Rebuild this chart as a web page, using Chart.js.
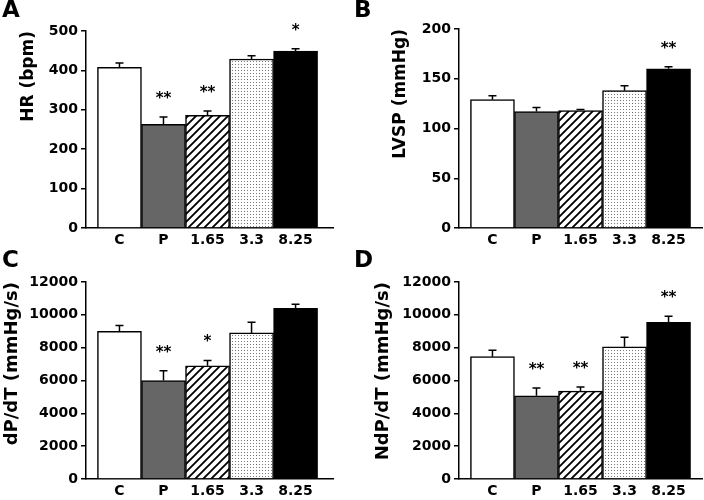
<!DOCTYPE html>
<html>
<head>
<meta charset="utf-8">
<script src="https://cdn.jsdelivr.net/npm/chart.js@4.4.1/dist/chart.umd.min.js"></script>
<style>
  body { margin: 0; background: #fff; }
  #fig { position: relative; width: 704px; height: 500px; }
  #fig canvas { position: absolute; }
</style>
</head>
<body>
<div id="fig">
  <canvas id="chartA" width="352" height="250" style="left:0;top:0"></canvas>
  <canvas id="chartB" width="352" height="250" style="left:352px;top:0"></canvas>
  <canvas id="chartC" width="352" height="250" style="left:0;top:250px"></canvas>
  <canvas id="chartD" width="352" height="250" style="left:352px;top:250px"></canvas>
</div>
<script>
// groups shared by all four panels
const groups = ['C', 'P', '1.65', '3.3', '8.25'];

// A: heart rate
const hrMean = [408, 263, 286, 429, 449];
const hrErr = [11, 19, 11, 8, 6];
const hrStars = ['', '**', '**', '', '*'];
const hrTicks = [0, 100, 200, 300, 400, 500];

// B: LV systolic pressure
const lvspMean = [129, 117, 118, 138, 160];
const lvspErr = [4, 4, 1, 5, 2];
const lvspStars = ['', '', '', '', '**'];
const lvspTicks = [0, 50, 100, 150, 200];

// C: dP/dT
const dpMean = [9000, 6000, 6900, 8900, 10400];
const dpErr = [350, 600, 320, 650, 250];
const dpStars = ['', '**', '*', '', ''];
const dpTicks = [0, 2000, 4000, 6000, 8000, 10000, 12000];

// D: NdP/dT
const ndpMean = [7450, 5070, 5350, 8050, 9550];
const ndpErr = [400, 480, 250, 580, 370];
const ndpStars = ['', '**', '**', '', '**'];
const ndpTicks = [0, 2000, 4000, 6000, 8000, 10000, 12000];

const FONT = 'DejaVu Sans';

function tile(size, draw) {
    const c = document.createElement('canvas');
    c.width = size;
    c.height = size;
    const g = c.getContext('2d');
    g.fillStyle = '#fff';
    g.fillRect(0, 0, size, size);
    draw(g, size);
    return c;
}

const hatchTile = tile(8, (g, s) => {
    g.strokeStyle = '#000';
    g.lineWidth = 1.9;
    g.beginPath();
    g.moveTo(0, s); g.lineTo(s, 0);
    g.moveTo(-1, 1); g.lineTo(1, -1);
    g.moveTo(s - 1, s + 1); g.lineTo(s + 1, s - 1);
    g.stroke();
});

const dotTile = tile(3, (g) => {
    g.fillStyle = '#777';
    g.fillRect(1, 1, 1, 1);
});

// error bars (upper half only) and significance stars
const errorBars = {
    id: 'errorBars',
    afterDatasetsDraw(chart, args, opts) {
        const ctx = chart.ctx;
        const y = chart.scales.y;
        const meta = chart.getDatasetMeta(0);
        const data = chart.data.datasets[0].data;
        ctx.save();
        ctx.strokeStyle = '#000';
        ctx.lineWidth = 1.5;
        ctx.fillStyle = '#000';
        ctx.font = 'bold 15px "' + FONT + '"';
        ctx.textAlign = 'center';
        meta.data.forEach((bar, i) => {
            const top = y.getPixelForValue(data[i].y + opts.errors[i]);
            ctx.beginPath();
            ctx.moveTo(bar.x, bar.y);
            ctx.lineTo(bar.x, top);
            ctx.moveTo(bar.x - 4, top);
            ctx.lineTo(bar.x + 4, top);
            ctx.stroke();
            if (opts.stars[i]) {
                ctx.fillText(opts.stars[i], bar.x, top - 14);
            }
        });
        ctx.restore();
    }
};

const panelLetter = {
    id: 'panelLetter',
    afterDraw(chart, args, opts) {
        const ctx = chart.ctx;
        ctx.save();
        ctx.fillStyle = '#000';
        ctx.font = 'bold 23px "' + FONT + '"';
        ctx.textBaseline = 'top';
        ctx.fillText(opts.text, opts.x, opts.y);
        ctx.restore();
    }
};

function makeChart(id, letter, means, errors, stars, ticks, title, layout) {
    const ctx = document.getElementById(id).getContext('2d');
    const fills = ['#ffffff', '#666666', ctx.createPattern(hatchTile, 'repeat'),
        ctx.createPattern(dotTile, 'repeat'), '#000000'];

    return new Chart(ctx, {
        type: 'bar',
        data: {
            datasets: [{
                data: means.map((v, i) => ({ x: i, y: v })),
                backgroundColor: fills,
                borderColor: '#000',
                borderWidth: 1.5,
                barPercentage: 1,
                categoryPercentage: 1
            }]
        },
        options: {
            responsive: false,
            animation: false,
            events: [],
            layout: {
                padding: { left: 0, top: layout.top, right: layout.right, bottom: 0 }
            },
            plugins: {
                legend: { display: false },
                tooltip: { enabled: false },
                errorBars: { errors: errors, stars: stars },
                panelLetter: { text: letter, x: 2, y: 0 }
            },
            scales: {
                x: {
                    type: 'linear',
                    offset: false,
                    min: -0.76,
                    max: layout.xMax,
                    afterFit: s => { s.height = layout.xHeight; },
                    afterBuildTicks: s => { s.ticks = groups.map((g, i) => ({ value: i })); },
                    ticks: {
                        callback: v => groups[v],
                        color: '#000',
                        font: { family: FONT, weight: 'bold', size: 14 },
                        padding: 4,
                        autoSkip: false,
                        maxRotation: 0
                    },
                    grid: { display: false, drawTicks: false },
                    border: { color: '#000', width: 1.5 }
                },
                y: {
                    min: ticks[0],
                    max: ticks[ticks.length - 1],
                    afterFit: s => { s.width = layout.axis; },
                    afterBuildTicks: s => { s.ticks = ticks.map(v => ({ value: v })); },
                    ticks: {
                        callback: v => String(v),
                        color: '#000',
                        font: { family: FONT, weight: 'bold', size: 14 },
                        padding: 3
                    },
                    grid: {
                        drawOnChartArea: false,
                        drawTicks: true,
                        tickLength: 5,
                        color: '#000',
                        lineWidth: 1.5
                    },
                    border: { color: '#000', width: 1.5 },
                    title: {
                        display: true,
                        text: title,
                        align: 'end',
                        color: '#000',
                        font: { family: FONT, weight: 'bold', size: layout.titleSize },
                        padding: { top: layout.titlePad, bottom: 0 }
                    }
                }
            }
        },
        plugins: [errorBars, panelLetter]
    });
}

makeChart('chartA', 'A', hrMean, hrErr, hrStars, hrTicks, 'HR (bpm)',
    { axis: 86, top: 31, right: 19, xHeight: 22, xMax: 4.85, titlePad: 18, titleSize: 17 });
makeChart('chartB', 'B', lvspMean, lvspErr, lvspStars, lvspTicks, 'LVSP (mmHg)',
    { axis: 107, top: 29, right: 2, xHeight: 22, xMax: 4.76, titlePad: 38, titleSize: 17 });
makeChart('chartC', 'C', dpMean, dpErr, dpStars, dpTicks, 'dP/dT (mmHg/s)',
    { axis: 86, top: 32, right: 19, xHeight: 21, xMax: 4.85, titlePad: 2, titleSize: 18 });
makeChart('chartD', 'D', ndpMean, ndpErr, ndpStars, ndpTicks, 'NdP/dT (mmHg/s)',
    { axis: 107, top: 32, right: 2, xHeight: 21, xMax: 4.76, titlePad: 21, titleSize: 18 });
</script>
</body>
</html>
